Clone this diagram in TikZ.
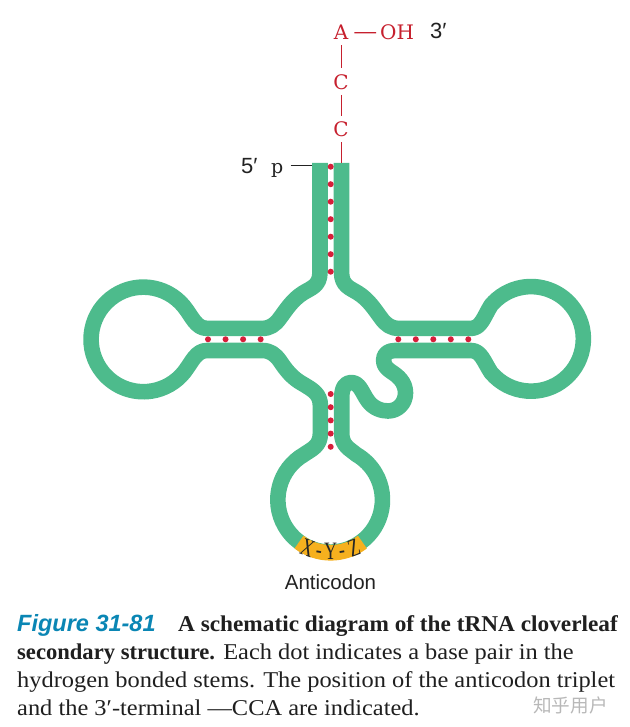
\documentclass[tikz,border=0pt]{standalone}
\usepackage{fontspec}
\usetikzlibrary{calc}
\setmainfont{Liberation Serif}
\setsansfont{Liberation Sans}
\newfontfamily\seqfont{DejaVu Serif}
\newfontfamily\cjkfont{Noto Sans CJK SC}
\newfontfamily\capreg[FakeStretch=1.08]{Liberation Serif}
\newfontfamily\capbold[FakeStretch=1.03]{Liberation Serif Bold}
\definecolor{stemgreen}{HTML}{4DBB8C}
\definecolor{pairred}{HTML}{D61F3A}
\definecolor{seqred}{HTML}{C6202E}
\definecolor{codonorange}{HTML}{F6B01E}
\definecolor{figblue}{HTML}{0A86B4}
\definecolor{inkgrey}{HTML}{222222}
\tikzset{
  strand/.style={draw=stemgreen,line width=15.6pt,line join=round},
  codon/.style={draw=codonorange,line width=15.6pt},
  pairdot/.style={circle,fill=pairred,inner sep=0pt,minimum size=6pt},
  seqtxt/.style={inner sep=0pt,anchor=base,text=seqred,font=\seqfont\fontsize{20}{24}\selectfont},
  seqline/.style={draw=seqred,line width=1.2pt},
  inkline/.style={draw=inkgrey,line width=1.1pt},
  sanslabel/.style={inner sep=0pt,anchor=base west,text=inkgrey,font=\sffamily\fontsize{20.5}{24}\selectfont},
  caplab/.style={inner sep=0pt,anchor=base west,text=black!88,font=\capreg\fontsize{22.6}{26}\selectfont},
  codonletter/.style={inner sep=0pt,text=black!85,xscale=0.72,transform shape,font=\fontsize{25}{28}\selectfont}
}
\begin{document}
\begin{tikzpicture}[x=1pt,y=-1pt]
\useasboundingbox (0,0) rectangle (629,727);
% continuous strand
\draw[strand]
  (320,163) -- (320,272)
  .. controls (320,286) and (311,288) .. (303,293)
  .. controls (292,300) and (286,310) .. (280,318)
  .. controls (275,325) and (270,328.4) .. (262,328.4)
  -- (207,328.4)
  .. controls (196,328.4) and (192,316.5) .. (184,306.5)
  arc[start angle=-39,end angle=-321,radius=52.3]
  .. controls (192,362) and (196,350.5) .. (207,350.5)
  -- (262,350.5)
  .. controls (270,350.5) and (275,354) .. (280,361)
  .. controls (286,370) and (292,378) .. (303,384)
  .. controls (313,390) and (320.4,394) .. (320.4,406)
  -- (320.4,433)
  .. controls (320.4,446) and (312,449) .. (304,454.5)
  arc[start angle=-120,end angle=-420,radius=52.3]
  .. controls (350,449) and (341.7,446) .. (341.7,433)
  -- (341.7,398)
  .. controls (341.7,388) and (345,382.5) .. (351,382.5)
  .. controls (360,382.5) and (362,393) .. (368,401)
  .. controls (373,408) and (381,411) .. (388,411)
  .. controls (398,411) and (405.5,403) .. (405.5,393)
  .. controls (405.5,382) and (398,376) .. (391,371.5)
  .. controls (386,368) and (383.6,365) .. (383.6,360)
  .. controls (383.6,354) and (388,350.5) .. (395,350.5)
  -- (471,350.5)
  .. controls (481,350.5) and (484,362) .. (491,372.5)
  arc[start angle=140,end angle=-140,radius=52.3]
  .. controls (484,316.5) and (481,328.4) .. (471,328.4)
  -- (399,328.4)
  .. controls (391,328.4) and (386,325) .. (381,318)
  .. controls (375,310) and (369,300) .. (358,293)
  .. controls (350,288) and (341.5,286) .. (341.5,272)
  -- (341.5,163);
% anticodon band
\draw[codon] (299,542.1) arc[start angle=127.3,end angle=52.7,radius=52.3];
\node[rotate=-20,codonletter] (lx) at (307.5,548) {X};
\node[rotate=-10,codonletter] (d1) at (318.5,554.5) {-};
\node[codonletter] (ly) at (330.5,551) {Y};
\node[rotate=10,codonletter] (d2) at (342.5,554.5) {-};
\node[rotate=20,codonletter] (lz) at (354,547.5) {Z};
% base pairs
\foreach \i in {0,...,6}
  \node[pairdot] (a\i) at (330.7,166.7+17.5*\i) {};
\foreach \i in {0,...,3}
  \node[pairdot] (d\i) at (208+17.55*\i,339.3) {};
\foreach \i in {0,...,4}
  \node[pairdot] (t\i) at (398.3+17.5*\i,339.3) {};
\foreach \i in {0,...,4}
  \node[pairdot] (c\i) at (330.7,394+13.2*\i) {};
% 3' end
\coordinate (stemtop) at (341.5,163);
\coordinate (strandfive) at (312,165.7);
\node[seqtxt] (A) at (341,40) {A};
\node[seqtxt,anchor=base west] (OH) at (380,40) {OH};
\node[seqtxt] (Ca) at (341,89.5) {C};
\node[seqtxt] (Cb) at (341,137) {C};
\draw[seqline,shorten <=6pt,shorten >=4pt] (A.east) -- (OH.west);
\draw[seqline,shorten <=5pt,shorten >=6pt] (A.south -| stemtop) -- (Ca.north -| stemtop);
\draw[seqline,shorten <=5pt,shorten >=6pt] (Ca.south -| stemtop) -- (Cb.north -| stemtop);
\draw[seqline,shorten <=5pt] (Cb.south -| stemtop) -- (stemtop);
\node[sanslabel,font=\sffamily\fontsize{22}{24}\selectfont] (three) at (430,39) {3′};
\node[sanslabel,font=\sffamily\fontsize{22}{24}\selectfont] (five) at (241,174) {5′};
\node[inner sep=0pt,anchor=base west,text=inkgrey,font=\seqfont\fontsize{19}{22}\selectfont] (p) at (271,174) {p};
\draw[inkline] ($(p.east |- strandfive)+(7,0)$) -- (strandfive);
\node[sanslabel,anchor=base] (anti) at (330.5,589) {Anticodon};
% caption
\node[inner sep=0pt,anchor=base west,text=figblue,font=\sffamily\bfseries\itshape\fontsize{23.5}{26}\selectfont] (fig) at (17,631) {Figure 31-81};
\node[caplab,font=\capbold\fontsize{22.6}{26}\selectfont] (cap1) at (178,631) {A schematic diagram of the tRNA cloverleaf};
\node[caplab] (cap2) at (17,659) {{\bfseries\fontspec{Liberation Serif Bold}\fontsize{22.6}{26}\selectfont secondary structure.} Each dot indicates a base pair in the};
\node[caplab] (cap3) at (17,687) {hydrogen bonded stems. The position of the anticodon triplet};
\node[caplab] (cap4) at (17,715) {and the 3′-terminal —CCA are indicated.};
\node[inner sep=0pt,anchor=base west,text=black!28,font=\cjkfont\fontsize{18.6}{22}\selectfont] (mark) at (533,712) {知乎用户};
\end{tikzpicture}
\end{document}
